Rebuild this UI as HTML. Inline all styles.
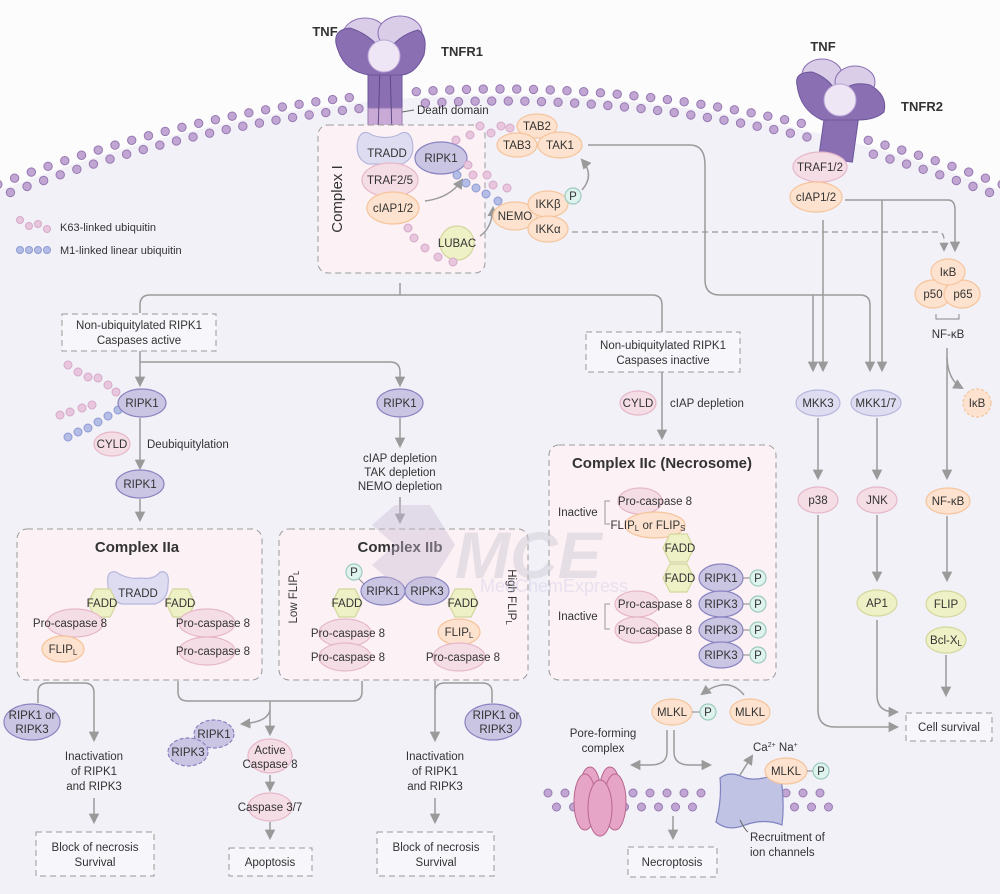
<!DOCTYPE html>
<html><head><meta charset="utf-8"><style>
html,body{margin:0;padding:0;background:#f2f1f7}
svg{display:block}
text{font-family:"Liberation Sans",sans-serif;font-size:11.5px;fill:#333}
.b{font-weight:bold;font-size:13px}
.t{font-size:15px;font-weight:bold}
.c{text-anchor:middle}
.or{fill:#fde3cf;stroke:#f5c49c;stroke-width:1.2}
.pk{fill:#f5dde6;stroke:#e5b7c9;stroke-width:1.2}
.pu{fill:#c9c5e3;stroke:#8a84c0;stroke-width:1.2}
.lb{fill:#dddcf0;stroke:#b7b7de;stroke-width:1.2}
.ye{fill:#eef0c6;stroke:#d3d79c;stroke-width:1.2}
.pp{fill:#def2ee;stroke:#9ccabf;stroke-width:1.2}
.bx{fill:#fcf1f4;stroke:#9a9a9a;stroke-dasharray:6 4;stroke-width:1}
.wb{fill:#f7f6fa;stroke:#9a9a9a;stroke-dasharray:6 4;stroke-width:1}
.ln{fill:none;stroke:#9a9a9a;stroke-width:1.5}
.dl{fill:none;stroke:#9a9a9a;stroke-width:1.3;stroke-dasharray:6 4}
</style></head><body>
<svg width="1000" height="894" viewBox="0 0 1000 894" xmlns="http://www.w3.org/2000/svg">
<defs>
<marker id="a" viewBox="0 0 10 10" refX="8" refY="5" markerWidth="7" markerHeight="7" orient="auto-start-reverse"><path d="M0,0 L10,5 L0,10 z" fill="#9a9a9a"/></marker>
</defs>
<rect width="1000" height="894" fill="#f2f1f7"/>
<path d="M0,0 H1000 V190 Q500,0 0,190 Z" fill="#fcfcfd"/>
<g id="mem"></g>

<!-- TNFR1 receptor -->
<g>
<rect x="368" y="60" width="34" height="75" fill="#8a6fb3" stroke="#6d559a"/>
<rect x="368" y="108" width="34" height="27" fill="#c9a9d6" stroke="#9a7ab4"/>
<line x1="380" y1="65" x2="378" y2="135" stroke="#5d4a85"/><line x1="390" y1="65" x2="392" y2="135" stroke="#5d4a85"/>
<ellipse cx="365" cy="35" rx="22" ry="17" fill="#d9cde8" stroke="#8a6fb3"/>
<ellipse cx="400" cy="33" rx="22" ry="17" fill="#d9cde8" stroke="#8a6fb3"/>
<path d="M338,50 Q330,30 350,28 Q372,35 385,55 Q398,35 418,30 Q428,35 424,55 Q415,75 400,75 L370,75 Q345,72 338,50Z" fill="#8a6fb3" stroke="#6d559a"/>
<circle cx="384" cy="56" r="16" fill="#eee6f5" stroke="#b9a5d5"/>
<text x="325" y="36" class="b c">TNF</text>
<text x="462" y="56" class="b c">TNFR1</text>
<line x1="402" y1="112" x2="414" y2="110" stroke="#666"/>
<text x="417" y="114">Death domain</text>
</g>

<!-- TNFR2 receptor -->
<g>
<rect x="822" y="110" width="34" height="50" fill="#8a6fb3" stroke="#6d559a" transform="rotate(8 839 135)"/>
<ellipse cx="822" cy="75" rx="20" ry="16" fill="#d9cde8" stroke="#8a6fb3"/>
<ellipse cx="855" cy="82" rx="20" ry="16" fill="#d9cde8" stroke="#8a6fb3"/>
<path d="M797,85 Q794,72 812,72 Q830,78 838,95 Q850,80 870,85 Q888,95 884,112 Q875,120 858,120 L822,120 Q800,110 797,85Z" fill="#8a6fb3" stroke="#6d559a"/>
<circle cx="840" cy="100" r="16" fill="#eee6f5" stroke="#b9a5d5"/>
<text x="823" y="51" class="b c">TNF</text>
<text x="922" y="111" class="b c">TNFR2</text>
</g>

<!-- Complex I -->
<rect x="318" y="125" width="167" height="148" rx="10" class="bx"/>
<text x="342" y="199" class="c" transform="rotate(-90 342 199)" style="font-size:15px">Complex I</text>
<path d="M358,140 Q362,128 372,135 Q385,140 398,135 Q408,128 412,140 Q416,158 402,164 L368,164 Q354,158 358,140Z" class="lb"/>
<text x="387" y="157" class="c">TRADD</text>
<ellipse cx="390" cy="180" rx="28" ry="17" class="pk"/><text x="390" y="184" class="c">TRAF2/5</text>
<ellipse cx="441" cy="158" rx="26" ry="16" class="pu"/><text x="441" y="162" class="c">RIPK1</text>
<ellipse cx="393" cy="208" rx="26" ry="16" class="or"/><text x="393" y="212" class="c">cIAP1/2</text>
<circle cx="457" cy="243" r="17" class="ye"/><text x="457" y="247" class="c">LUBAC</text>
<path d="M425,201 Q450,198 462,180" class="ln" marker-end="url(#a)"/>
<path d="M480,236 Q492,228 493,208" class="ln" marker-end="url(#a)"/>
<g fill="#e8c6dd" stroke="#d5a9c9">
<circle cx="456" cy="140" r="4"/><circle cx="470" cy="135" r="4"/><circle cx="480" cy="126" r="4"/><circle cx="491" cy="133" r="4"/><circle cx="501" cy="126" r="4"/><circle cx="510" cy="128" r="4"/>
<circle cx="468" cy="165" r="4"/><circle cx="473" cy="175" r="4"/><circle cx="487" cy="175" r="4"/><circle cx="493" cy="185" r="4"/><circle cx="507" cy="188" r="4"/>
<circle cx="408" cy="228" r="4"/><circle cx="414" cy="238" r="4"/><circle cx="425" cy="248" r="4"/><circle cx="438" cy="257" r="4"/><circle cx="453" cy="262" r="4"/>
</g>
<g fill="#b3bde6" stroke="#8f9bd2">
<circle cx="457" cy="175" r="4"/><circle cx="466" cy="183" r="4"/><circle cx="476" cy="188" r="4"/><circle cx="486" cy="194" r="4"/><circle cx="498" cy="201" r="4"/>
</g>
<ellipse cx="537" cy="126" rx="20" ry="12" class="or"/><text x="537" y="130" class="c">TAB2</text>
<ellipse cx="517" cy="145" rx="20" ry="12" class="or"/><text x="517" y="149" class="c">TAB3</text>
<ellipse cx="560" cy="145" rx="22" ry="13" class="or"/><text x="560" y="149" class="c">TAK1</text>
<ellipse cx="515" cy="216" rx="22" ry="14" class="or"/><text x="515" y="220" class="c">NEMO</text>
<ellipse cx="548" cy="204" rx="20" ry="13" class="or"/><text x="548" y="208" class="c">IKKβ</text>
<ellipse cx="548" cy="229" rx="20" ry="13" class="or"/><text x="548" y="233" class="c">IKKα</text>
<circle cx="573" cy="196" r="8" class="pp"/><text x="573" y="200" class="c">P</text>
<path d="M582,190 Q595,175 582,160" class="ln" marker-end="url(#a)"/>

<!-- legend -->
<g fill="#e8c6dd" stroke="#d5a9c9"><circle cx="20" cy="220" r="3.5"/><circle cx="29" cy="226" r="3.5"/><circle cx="38" cy="224" r="3.5"/><circle cx="47" cy="229" r="3.5"/></g>
<text x="60" y="231" style="font-size:11px">K63-linked ubiquitin</text>
<g fill="#b3bde6" stroke="#8f9bd2"><circle cx="20" cy="250" r="3.5"/><circle cx="29" cy="250" r="3.5"/><circle cx="38" cy="250" r="3.5"/><circle cx="47" cy="250" r="3.5"/></g>
<text x="60" y="254" style="font-size:11px">M1-linked linear ubiquitin</text>

<ellipse cx="820" cy="167" rx="27" ry="15" class="pk"/><text x="820" y="171" class="c">TRAF1/2</text>
<ellipse cx="816" cy="197" rx="26" ry="15" class="or"/><text x="816" y="201" class="c">cIAP1/2</text>

<path d="M588,145 H690 Q705,145 705,165 V280 Q705,295 720,295 H860 Q870,295 870,305 V370" class="ln" marker-end="url(#a)"/>
<path d="M813,295 V370" class="ln" marker-end="url(#a)"/>
<path d="M823,220 V370" class="ln" marker-end="url(#a)"/>
<path d="M845,200 H948 Q955,200 955,210 V250" class="ln" marker-end="url(#a)"/>
<path d="M882,200 V370" class="ln" marker-end="url(#a)"/>
<path d="M572,232 H938 Q944,232 944,240 V250" class="dl" marker-end="url(#a)"/>

<ellipse cx="933" cy="294" rx="18" ry="14" class="or"/>
<ellipse cx="962" cy="294" rx="18" ry="14" class="or"/>
<ellipse cx="948" cy="272" rx="17" ry="13" class="or"/>
<text x="948" y="276" class="c">IκB</text><text x="933" y="298" class="c">p50</text><text x="963" y="298" class="c">p65</text>
<path d="M936,314 V319 H959 V314" fill="none" stroke="#888"/>
<text x="948" y="338" class="c">NF-κB</text>
<path d="M947,348 V478" class="ln" marker-end="url(#a)"/>
<path d="M947,358 Q948,380 962,388" class="ln" marker-end="url(#a)"/>
<circle cx="977" cy="403" r="14" class="or" style="stroke-dasharray:3 2"/><text x="977" y="407" class="c">IκB</text>

<ellipse cx="818" cy="403" rx="22" ry="13" class="lb"/><text x="818" y="407" class="c">MKK3</text>
<ellipse cx="876" cy="403" rx="25" ry="13" class="lb"/><text x="876" y="407" class="c">MKK1/7</text>
<path d="M818,418 V478" class="ln" marker-end="url(#a)"/>
<path d="M877,418 V478" class="ln" marker-end="url(#a)"/>
<ellipse cx="818" cy="500" rx="20" ry="13" class="pk"/><text x="818" y="504" class="c">p38</text>
<ellipse cx="877" cy="500" rx="20" ry="13" class="pk"/><text x="877" y="504" class="c">JNK</text>
<ellipse cx="948" cy="501" rx="22" ry="13" class="or"/><text x="948" y="505" class="c">NF-κB</text>
<path d="M877,515 V580" class="ln" marker-end="url(#a)"/>
<path d="M947,516 V580" class="ln" marker-end="url(#a)"/>
<ellipse cx="877" cy="603" rx="20" ry="13" class="ye"/><text x="877" y="607" class="c">AP1</text>
<ellipse cx="946" cy="604" rx="20" ry="13" class="ye"/><text x="946" y="608" class="c">FLIP</text>
<ellipse cx="946" cy="640" rx="20" ry="13" class="ye"/><text x="946" y="644" class="c">Bcl-X<tspan style="font-size:8px" dy="2">L</tspan></text>
<path d="M946,655 V695" class="ln" marker-end="url(#a)"/>
<path d="M877,620 V695 Q877,712 895,712 H897" class="ln" marker-end="url(#a)"/>
<path d="M818,515 V710 Q818,727 835,727 H897" class="ln" marker-end="url(#a)"/>
<rect x="906" y="713" width="86" height="28" class="wb"/>
<text x="949" y="731" class="c">Cell survival</text>

<path d="M400,283 V295 M150,295 H652 Q662,295 662,305 V332 M150,295 Q140,295 140,305 V313" class="ln"/>
<rect x="62" y="314" width="154" height="37" class="wb"/>
<text x="139" y="329" class="c">Non-ubiquitylated RIPK1</text>
<text x="139" y="344" class="c">Caspases active</text>
<rect x="586" y="332" width="154" height="40" class="wb"/>
<text x="663" y="349" class="c">Non-ubiquitylated RIPK1</text>
<text x="663" y="364" class="c">Caspases inactive</text>
<path d="M140,351 V385" class="ln" marker-end="url(#a)"/>
<path d="M140,362 H390 Q400,362 400,372 V385" class="ln" marker-end="url(#a)"/>
<path d="M662,372 V438" class="ln" marker-end="url(#a)"/>

<g fill="#e8c6dd" stroke="#d5a9c9"><circle cx="68" cy="365" r="4"/><circle cx="78" cy="372" r="4"/><circle cx="88" cy="377" r="4"/><circle cx="98" cy="378" r="4"/><circle cx="108" cy="385" r="4"/><circle cx="116" cy="392" r="4"/>
<circle cx="60" cy="415" r="4"/><circle cx="70" cy="412" r="4"/><circle cx="82" cy="408" r="4"/><circle cx="92" cy="405" r="4"/></g>
<g fill="#b3bde6" stroke="#8f9bd2"><circle cx="68" cy="437" r="4"/><circle cx="78" cy="432" r="4"/><circle cx="88" cy="428" r="4"/><circle cx="98" cy="422" r="4"/><circle cx="108" cy="416" r="4"/><circle cx="118" cy="410" r="4"/></g>
<ellipse cx="142" cy="403" rx="24" ry="14" class="pu"/><text x="142" y="407" class="c">RIPK1</text>
<ellipse cx="112" cy="444" rx="18" ry="12" class="pk"/><text x="112" y="448" class="c">CYLD</text>
<text x="147" y="448">Deubiquitylation</text>
<path d="M140,418 V468" class="ln" marker-end="url(#a)"/>
<ellipse cx="140" cy="484" rx="24" ry="14" class="pu"/><text x="140" y="488" class="c">RIPK1</text>
<path d="M140,499 V520" class="ln" marker-end="url(#a)"/>

<ellipse cx="400" cy="403" rx="23" ry="14" class="pu"/><text x="400" y="407" class="c">RIPK1</text>
<path d="M400,418 V446" class="ln" marker-end="url(#a)"/>
<text x="400" y="462" class="c">cIAP depletion</text>
<text x="400" y="476" class="c">TAK depletion</text>
<text x="400" y="490" class="c">NEMO depletion</text>
<path d="M400,497 V522" class="ln" marker-end="url(#a)"/>

<ellipse cx="638" cy="403" rx="18" ry="12" class="pk"/><text x="638" y="407" class="c">CYLD</text>
<text x="670" y="407">cIAP depletion</text>

<!-- Complex IIa -->
<rect x="17" y="529" width="245" height="151" rx="10" class="bx"/>
<text x="137" y="552" class="t c">Complex IIa</text>
<path d="M108,585 Q106,570 116,572 Q128,580 141,578 Q154,580 160,572 Q170,570 168,585 Q168,600 155,604 L122,604 Q108,600 108,585Z" class="lb"/>
<text x="138" y="597" class="c">TRADD</text>
<polygon points="88,603 95,589 110,589 117,603 110,617 95,617" class="ye"/><text x="102" y="607" class="c">FADD</text>
<polygon points="166,603 173,589 188,589 195,603 188,617 173,617" class="ye"/><text x="180" y="607" class="c">FADD</text>
<ellipse cx="75" cy="623" rx="28" ry="14" class="pk"/><text x="70" y="627" class="c">Pro-caspase 8</text>
<ellipse cx="63" cy="649" rx="21" ry="13" class="or"/><text x="63" y="653" class="c">FLIP<tspan style="font-size:8px" dy="2">L</tspan></text>
<ellipse cx="207" cy="623" rx="28" ry="14" class="pk"/><text x="213" y="627" class="c">Pro-caspase 8</text>
<ellipse cx="207" cy="651" rx="28" ry="14" class="pk"/><text x="213" y="655" class="c">Pro-caspase 8</text>

<!-- Complex IIb -->
<rect x="279" y="529" width="249" height="151" rx="10" class="bx"/>
<text x="400" y="552" class="t c">Complex IIb</text>
<text x="297" y="597" class="c" transform="rotate(-90 297 597)">Low FLIP<tspan style="font-size:8px" dy="2">L</tspan></text>
<text x="508" y="597" class="c" transform="rotate(90 508 597)">High FLIP<tspan style="font-size:8px" dy="2">L</tspan></text>
<line x1="357" y1="577" x2="365" y2="585" stroke="#888"/>
<circle cx="354" cy="572" r="8" class="pp"/><text x="354" y="576" class="c">P</text>
<ellipse cx="383" cy="591" rx="22" ry="14" class="pu"/><text x="383" y="595" class="c">RIPK1</text>
<ellipse cx="427" cy="591" rx="22" ry="14" class="pu"/><text x="427" y="595" class="c">RIPK3</text>
<polygon points="332,603 339,589 355,589 362,603 355,617 339,617" class="ye"/><text x="347" y="607" class="c">FADD</text>
<polygon points="448,603 455,589 471,589 478,603 471,617 455,617" class="ye"/><text x="463" y="607" class="c">FADD</text>
<ellipse cx="345" cy="633" rx="26" ry="14" class="pk"/><text x="348" y="637" class="c">Pro-caspase 8</text>
<ellipse cx="345" cy="657" rx="26" ry="14" class="pk"/><text x="348" y="661" class="c">Pro-caspase 8</text>
<ellipse cx="459" cy="632" rx="21" ry="13" class="or"/><text x="459" y="636" class="c">FLIP<tspan style="font-size:8px" dy="2">L</tspan></text>
<ellipse cx="459" cy="657" rx="26" ry="14" class="pk"/><text x="463" y="661" class="c">Pro-caspase 8</text>

<!-- Complex IIc -->
<rect x="549" y="445" width="227" height="235" rx="10" class="bx"/>
<text x="662" y="468" class="t c">Complex IIc (Necrosome)</text>
<text x="558" y="516">Inactive</text>
<path d="M610,501 H605 V524 H610" fill="none" stroke="#999"/>
<ellipse cx="640" cy="501" rx="22" ry="13" class="pk"/><text x="655" y="505" class="c">Pro-caspase 8</text>
<ellipse cx="655" cy="525" rx="30" ry="13" class="or"/><text x="648" y="529" class="c">FLIP<tspan style="font-size:8px" dy="2">L</tspan><tspan dy="-2"> or FLIP</tspan><tspan style="font-size:8px" dy="2">S</tspan></text>
<polygon points="663,548 670,534 687,534 694,548 687,562 670,562" class="ye"/><text x="680" y="552" class="c">FADD</text>
<polygon points="663,578 670,564 687,564 694,578 687,592 670,592" class="ye"/><text x="680" y="582" class="c">FADD</text>
<text x="558" y="620">Inactive</text>
<path d="M610,604 H605 V629 H610" fill="none" stroke="#999"/>
<ellipse cx="637" cy="604" rx="22" ry="13" class="pk"/><text x="655" y="608" class="c">Pro-caspase 8</text>
<ellipse cx="637" cy="630" rx="22" ry="13" class="pk"/><text x="655" y="634" class="c">Pro-caspase 8</text>
<g>
<ellipse cx="721" cy="578" rx="22" ry="14" class="pu"/><text x="721" y="582" class="c">RIPK1</text>
<ellipse cx="721" cy="604" rx="22" ry="13" class="pu"/><text x="721" y="608" class="c">RIPK3</text>
<ellipse cx="721" cy="630" rx="22" ry="13" class="pu"/><text x="721" y="634" class="c">RIPK3</text>
<ellipse cx="721" cy="655" rx="22" ry="13" class="pu"/><text x="721" y="659" class="c">RIPK3</text>
<line x1="743" y1="578" x2="750" y2="578" stroke="#888"/><line x1="743" y1="604" x2="750" y2="604" stroke="#888"/><line x1="743" y1="630" x2="750" y2="630" stroke="#888"/><line x1="743" y1="655" x2="750" y2="655" stroke="#888"/>
<circle cx="758" cy="578" r="8" class="pp"/><text x="758" y="582" class="c">P</text>
<circle cx="758" cy="604" r="8" class="pp"/><text x="758" y="608" class="c">P</text>
<circle cx="758" cy="630" r="8" class="pp"/><text x="758" y="634" class="c">P</text>
<circle cx="758" cy="655" r="8" class="pp"/><text x="758" y="659" class="c">P</text>
</g>

<path d="M38,703 V692 Q38,683 48,683 H84 Q94,683 94,693 V740" class="ln" marker-end="url(#a)"/>
<ellipse cx="32" cy="722" rx="28" ry="18" class="pu"/><text x="32" y="719" class="c">RIPK1 or</text><text x="32" y="733" class="c">RIPK3</text>
<text x="94" y="760" class="c">Inactivation</text><text x="94" y="775" class="c">of RIPK1</text><text x="94" y="790" class="c">and RIPK3</text>
<path d="M94,798 V822" class="ln" marker-end="url(#a)"/>
<rect x="36" y="832" width="118" height="44" class="wb"/>
<text x="95" y="851" class="c">Block of necrosis</text><text x="95" y="866" class="c">Survival</text>

<path d="M178,681 V692 Q178,701 188,701 H352 Q362,701 362,692 V681" class="ln"/>
<path d="M270,701 V734" class="ln" marker-end="url(#a)"/>
<path d="M270,710 Q268,722 242,724" class="ln" marker-end="url(#a)"/>
<ellipse cx="214" cy="734" rx="20" ry="14" class="pu" style="stroke-dasharray:4 2"/>
<ellipse cx="188" cy="752" rx="20" ry="14" class="pu" style="stroke-dasharray:4 2"/>
<text x="214" y="738" class="c">RIPK1</text><text x="188" y="756" class="c">RIPK3</text>
<ellipse cx="270" cy="756" rx="22" ry="17" class="pk"/>
<text x="270" y="754" class="c">Active</text><text x="270" y="768" class="c">Caspase 8</text>
<path d="M270,775 V790" class="ln" marker-end="url(#a)"/>
<ellipse cx="270" cy="807" rx="22" ry="14" class="pk"/><text x="270" y="811" class="c">Caspase 3/7</text>
<path d="M270,822 V838" class="ln" marker-end="url(#a)"/>
<rect x="229" y="848" width="83" height="28" class="wb"/>
<text x="270" y="866" class="c">Apoptosis</text>

<path d="M435,681 V692 M492,703 V692 Q492,683 482,683 H445 Q435,683 435,692 V740" class="ln" marker-end="url(#a)"/>
<ellipse cx="493" cy="722" rx="28" ry="18" class="pu"/><text x="496" y="719" class="c">RIPK1 or</text><text x="496" y="733" class="c">RIPK3</text>
<text x="435" y="760" class="c">Inactivation</text><text x="435" y="775" class="c">of RIPK1</text><text x="435" y="790" class="c">and RIPK3</text>
<path d="M435,798 V822" class="ln" marker-end="url(#a)"/>
<rect x="377" y="832" width="117" height="44" class="wb"/>
<text x="436" y="851" class="c">Block of necrosis</text><text x="436" y="866" class="c">Survival</text>

<path d="M744,695 Q728,675 702,694" class="ln" marker-end="url(#a)"/>
<ellipse cx="672" cy="712" rx="20" ry="13" class="or"/><text x="672" y="716" class="c">MLKL</text>
<line x1="692" y1="712" x2="700" y2="712" stroke="#888"/>
<circle cx="708" cy="712" r="8" class="pp"/><text x="708" y="716" class="c">P</text>
<ellipse cx="750" cy="712" rx="20" ry="13" class="or"/><text x="750" y="716" class="c">MLKL</text>
<path d="M667,730 V752 Q667,765 650,765 H632" class="ln" marker-end="url(#a)"/>
<path d="M674,730 V752 Q674,765 690,765 H710" class="ln" marker-end="url(#a)"/>
<text x="603" y="737" class="c">Pore-forming</text><text x="603" y="752" class="c">complex</text>
<g id="mem3"></g>
<g fill="#e6a5c6" stroke="#b8668f">
<ellipse cx="590" cy="795" rx="11" ry="28"/><ellipse cx="610" cy="795" rx="11" ry="28"/>
<ellipse cx="585" cy="802" rx="11" ry="28"/><ellipse cx="615" cy="802" rx="11" ry="28"/>
<ellipse cx="600" cy="808" rx="12" ry="28"/>
</g>
<path d="M720,778 Q730,770 745,778 Q760,782 780,772 Q785,800 782,825 Q765,818 745,825 Q728,832 716,822 Q722,800 720,778Z" fill="#c0c3e3" stroke="#7f82c0" stroke-width="1.2"/>
<path d="M740,775 L752,756" class="ln" marker-end="url(#a)"/>
<text x="753" y="751">Ca<tspan style="font-size:7px" dy="-4">2+</tspan><tspan dy="4">  Na</tspan><tspan style="font-size:7px" dy="-4">+</tspan></text>
<ellipse cx="786" cy="771" rx="21" ry="13" class="or"/><text x="786" y="775" class="c">MLKL</text>
<line x1="807" y1="771" x2="813" y2="771" stroke="#888"/>
<circle cx="821" cy="771" r="8" class="pp"/><text x="821" y="775" class="c">P</text>
<path d="M740,820 Q745,830 748,832" fill="none" stroke="#666"/>
<text x="750" y="841">Recruitment of</text><text x="750" y="856">ion channels</text>
<path d="M673,816 V838" class="ln" marker-end="url(#a)"/>
<rect x="628" y="847" width="89" height="30" class="wb"/>
<text x="672" y="866" class="c">Necroptosis</text>

<!-- watermark on top -->
<g opacity="0.4">
<path d="M372,525 L395,505 L430,505 L455,545 L430,585 L395,585 L372,565 L395,545 Z" fill="#c9bcd6"/>
<text x="455" y="578" style="font-size:66px;font-weight:bold;font-style:italic;fill:#c7c2cf">MCE</text>
<text x="480" y="592" style="font-size:18px;fill:#c8c8e6">MedChemExpress</text>
</g>
</svg>
<script>
(function(){
var ns="http://www.w3.org/2000/svg";
function dot(g,x,y,r){var c=document.createElementNS(ns,"circle");c.setAttribute("cx",x);c.setAttribute("cy",y);c.setAttribute("r",r);c.setAttribute("fill","#c1a6d3");c.setAttribute("stroke","#9778b2");g.appendChild(c);}
var g=document.getElementById("mem");
for(var i=0;i<=120;i++){var t=i/120;var x=1000*t;var y=190*((1-t)*(1-t)+t*t);
var dx=1000,dy=190*(-2*(1-t)+2*t);var L=Math.sqrt(dx*dx+dy*dy);var nx=-dy/L,ny=dx/L;
var off=(i%2==0)?-6:6;
if(x>360&&x<410)continue; if(x>815&&x<862)continue;
dot(g,x+nx*off,y+ny*off,4.2);}
var g3=document.getElementById("mem3");
for(var x=548;x<=835;x+=8.5){var k=Math.round((x-548)/8.5);var y=(k%2==0)?793:807;if(x>708&&x<785)continue;dot(g3,x,y,4);}
})();
</script>
</body></html>
